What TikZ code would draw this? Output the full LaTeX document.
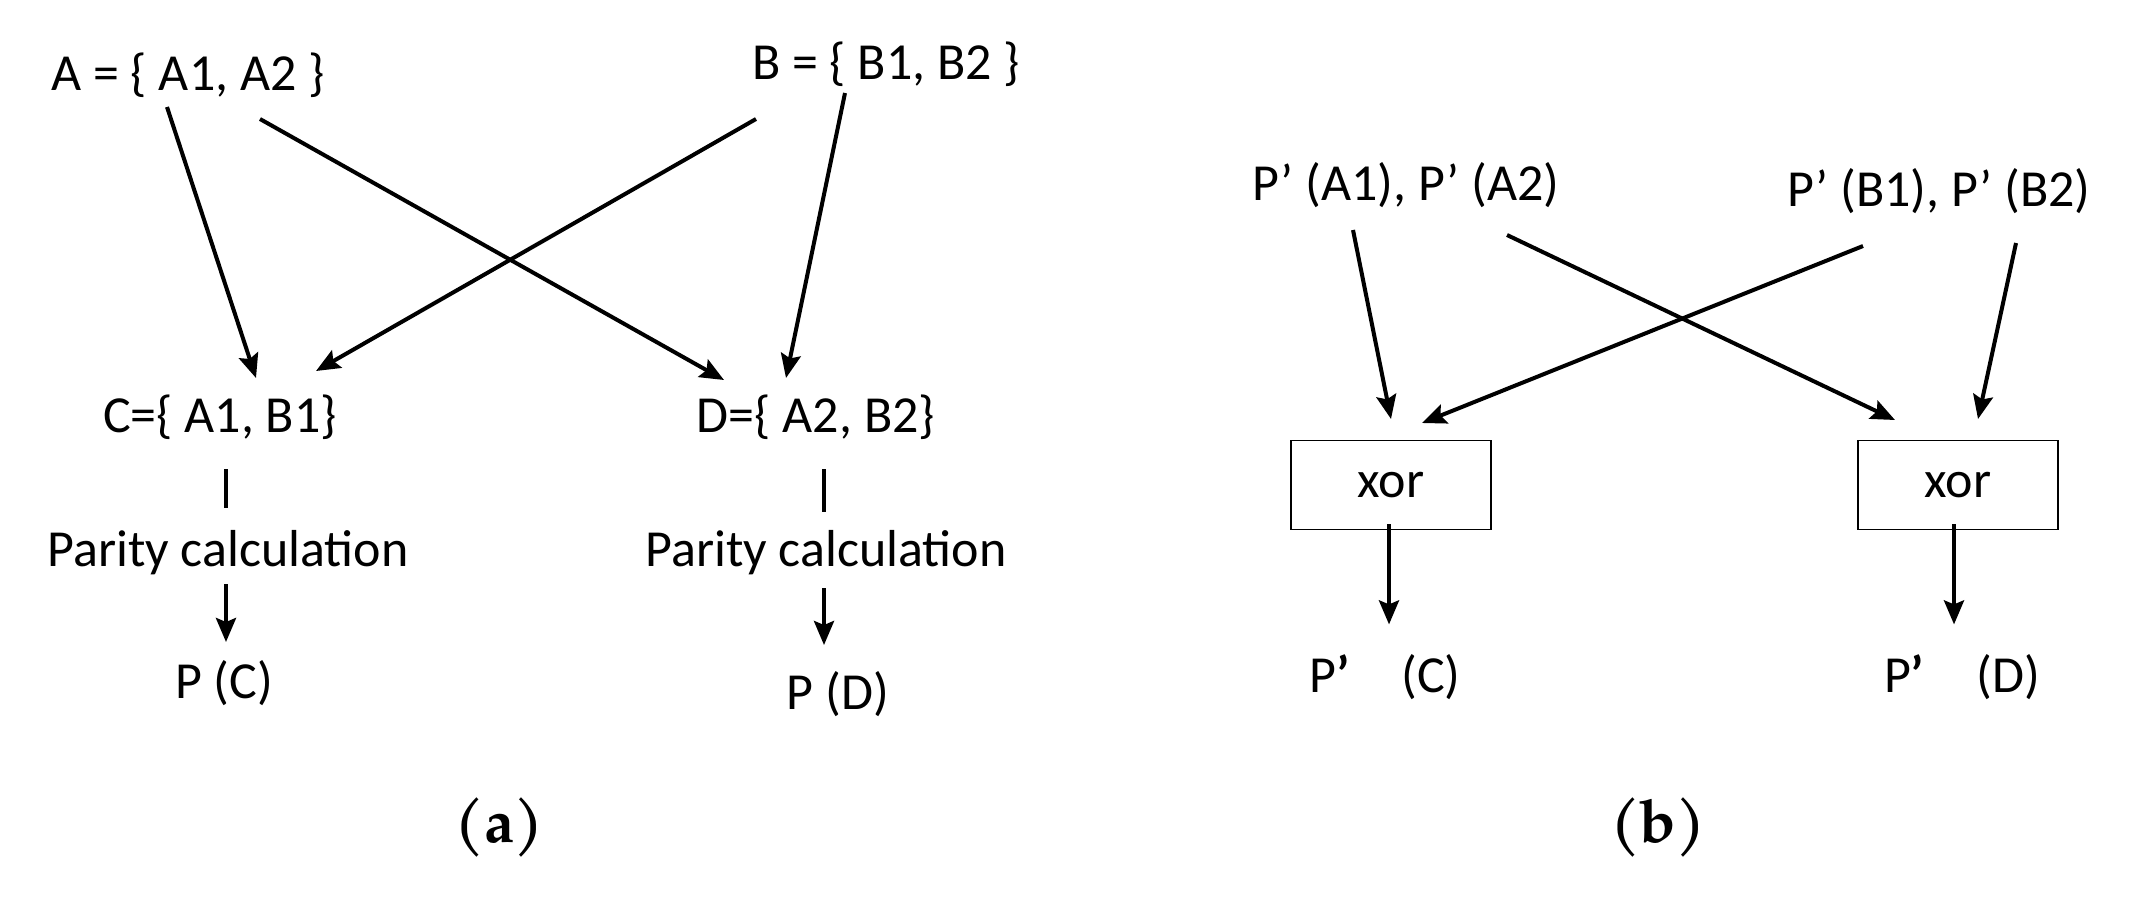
\documentclass[tikz,border=0pt]{standalone}
\usepackage{fontspec}
\setmainfont{Carlito}
\newfontfamily\capfont{TeX Gyre Pagella}
\usetikzlibrary{arrows.meta}
\begin{document}
\begin{tikzpicture}[x=1pt,y=-1pt,
  lbl/.style={inner sep=0pt,font=\fontsize{52}{56}\selectfont},
  captext/.style={inner sep=0pt,font=\fontsize{60}{64}\selectfont\rmfamily\bfseries},
  arr/.style={line width=4pt,-{Stealth[length=24pt,width=20pt,inset=4pt]}},
  ln/.style={line width=4pt},
  xorbox/.style={draw,line width=1.8pt,minimum width=200pt,minimum height=89pt,inner sep=0pt,font=\fontsize{52}{56}\selectfont}]
\useasboundingbox (0,0) rectangle (2143,910);
% panel a
\node[lbl] (A) at (188,75) {A = \{ A1, A2 \}};
\node[lbl] (B) at (886,64) {B = \{ B1, B2 \}};
\node[lbl] (C) at (220,417) {C=\{ A1, B1\}};
\node[lbl] (D) at (816,417) {D=\{ A2, B2\}};
\node[lbl] (PC1) at (228,553) {Parity calculation};
\node[lbl] (PC2) at (826,553) {Parity calculation};
\node[lbl] (PC) at (224,683) {P (C)};
\node[lbl] (PD) at (838,694) {P (D)};
\node[captext,font=\fontsize{60}{64}\selectfont\capfont\bfseries] (ca) at (499,827) {(a)};
\coordinate (a1) at (167,107); \coordinate (c1) at (256,378);
\coordinate (a2) at (260,119); \coordinate (d1) at (724,380);
\coordinate (b1) at (756,119); \coordinate (c2) at (316,371);
\coordinate (b2) at (845,93);  \coordinate (d2) at (786,378);
\draw[arr] (a1) -- (c1);
\draw[arr] (a2) -- (d1);
\draw[arr] (b1) -- (c2);
\draw[arr] (b2) -- (d2);
\draw[ln] (226,469) -- (226,508);
\draw[ln] (824,469) -- (824,512);
\draw[arr] (226,584) -- (226,642);
\draw[arr] (824,588) -- (824,645);
% panel b
\node[lbl] (PA) at (1406,185) {P’ (A1), P’ (A2)};
\node[lbl] (PB) at (1939,191) {P’ (B1), P’ (B2)};
\node[xorbox] (X1) at (1391,485) {xor};
\node[xorbox] (X2) at (1958,485) {xor};
\node[lbl] (PpC) at (1385,677) {P\textbf{’}\quad(C)};
\node[lbl] (PpD) at (1962,677) {P\textbf{’}\quad(D)};
\node[captext,font=\fontsize{60}{64}\selectfont\capfont\bfseries] (cb) at (1658,827) {(b)};
\coordinate (p1) at (1353,230); \coordinate (x1a) at (1391,419);
\coordinate (p2) at (1507,235); \coordinate (x2a) at (1895,420);
\coordinate (p3) at (1863,246); \coordinate (x1b) at (1422,423);
\coordinate (p4) at (2016,243); \coordinate (x2b) at (1978,419);
\draw[arr] (p1) -- (x1a);
\draw[arr] (p2) -- (x2a);
\draw[arr] (p3) -- (x1b);
\draw[arr] (p4) -- (x2b);
\draw[arr] ([xshift=-2pt,yshift=6pt]X1.south) -- ++(0,100);
\draw[arr] ([xshift=-4pt,yshift=6pt]X2.south) -- ++(0,100);
\end{tikzpicture}
\end{document}
